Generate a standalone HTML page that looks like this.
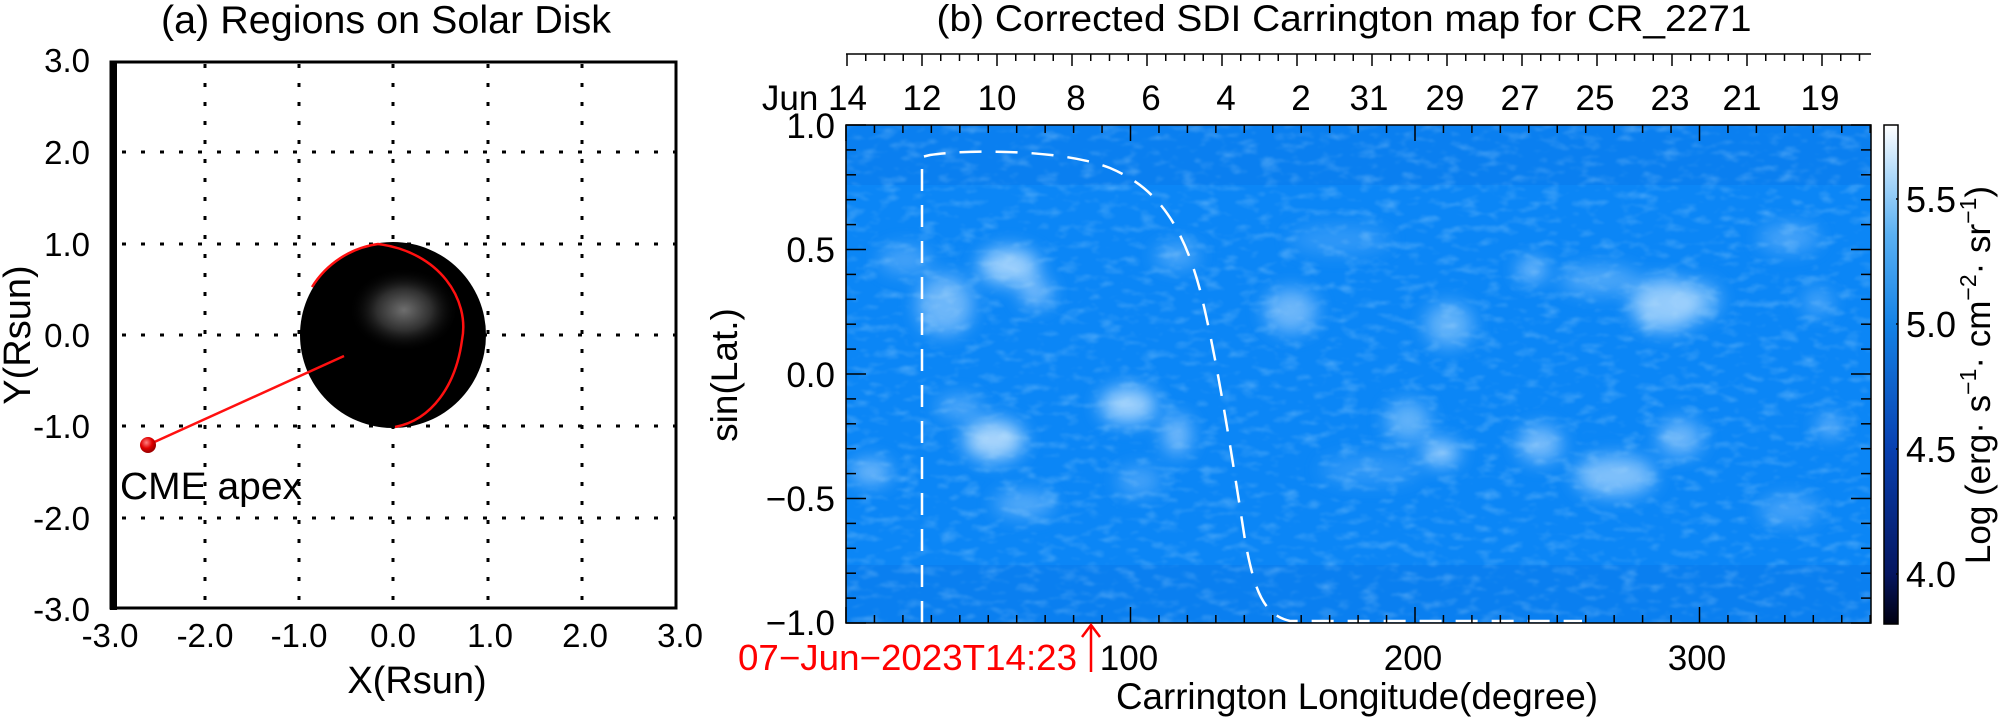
<!DOCTYPE html>
<html><head><meta charset="utf-8"><style>
html,body{margin:0;padding:0;background:#fff;}
svg{display:block;}
text{font-family:"Liberation Sans",Arial,sans-serif;fill:#000;}
</style></head><body>
<svg width="2000" height="718" viewBox="0 0 2000 718" xmlns="http://www.w3.org/2000/svg">
<defs>
<radialGradient id="sunglow" cx="0.5" cy="0.5" r="0.5">
<stop offset="0" stop-color="#8a8a8a"/><stop offset="0.5" stop-color="#3a3a3a"/><stop offset="1" stop-color="#000" stop-opacity="0"/>
</radialGradient>
<radialGradient id="dot" cx="0.4" cy="0.35" r="0.6">
<stop offset="0" stop-color="#ff8080"/><stop offset="0.6" stop-color="#e00000"/><stop offset="1" stop-color="#a00000"/>
</radialGradient>
<linearGradient id="cbar" x1="0" y1="1" x2="0" y2="0">
<stop offset="0" stop-color="#000010"/>
<stop offset="0.1" stop-color="#061660"/>
<stop offset="0.35" stop-color="#0840b0"/>
<stop offset="0.6" stop-color="#1482e6"/>
<stop offset="0.78" stop-color="#5ab0f2"/>
<stop offset="0.9" stop-color="#b0dafa"/>
<stop offset="1" stop-color="#ffffff"/>
</linearGradient>
<filter id="noise" x="0" y="0" width="100%" height="100%">
<feTurbulence type="fractalNoise" baseFrequency="0.05 0.12" numOctaves="3" seed="11"/>
<feColorMatrix type="matrix" values="0 0 0 0 0.6  0 0 0 0 0.84  0 0 0 0 1  0 0 0 2.0 -1.0"/>
<feGaussianBlur stdDeviation="1"/>
</filter>
<filter id="blur" x="-50%" y="-50%" width="200%" height="200%"><feGaussianBlur stdDeviation="9"/></filter>
<clipPath id="mapclip"><rect x="846" y="125" width="1025" height="498"/></clipPath>
</defs>

<!-- Panel (a) -->
<text x="386" y="33" font-size="39" text-anchor="middle" textLength="450" lengthAdjust="spacingAndGlyphs">(a) Regions on Solar Disk</text>
<g stroke="#000" stroke-width="3" stroke-dasharray="4 15" fill="none">
<line x1="205" y1="64" x2="205" y2="606"/><line x1="299" y1="64" x2="299" y2="606"/>
<line x1="393" y1="64" x2="393" y2="606"/><line x1="488" y1="64" x2="488" y2="606"/>
<line x1="582" y1="64" x2="582" y2="606"/>
<line x1="122" y1="152" x2="675" y2="152"/><line x1="122" y1="244" x2="675" y2="244"/>
<line x1="122" y1="335" x2="675" y2="335"/><line x1="122" y1="426" x2="675" y2="426"/>
<line x1="122" y1="518" x2="675" y2="518"/>
</g>
<circle cx="393" cy="335" r="93" fill="#000"/>
<ellipse cx="404" cy="310" rx="55" ry="42" fill="url(#sunglow)" opacity="0.8"/>
<path d="M312 287 A93 93 0 0 1 378 244 C440 252 470 300 462 340 C456 385 432 420 395 427" fill="none" stroke="#ff1010" stroke-width="2.5"/>
<line x1="344" y1="356" x2="150" y2="444" stroke="#ff1010" stroke-width="2.5"/>
<circle cx="148" cy="445" r="8" fill="url(#dot)"/>
<text x="120" y="499" font-size="38" textLength="182" lengthAdjust="spacingAndGlyphs">CME apex</text>
<rect x="111" y="62" width="565" height="546" fill="none" stroke="#000" stroke-width="3"/>
<rect x="110" y="61" width="7" height="549" fill="#000"/>
<g font-size="33" text-anchor="end">
<text x="90" y="72">3.0</text><text x="90" y="164">2.0</text><text x="90" y="256">1.0</text>
<text x="90" y="347">0.0</text><text x="90" y="438">-1.0</text><text x="90" y="530">-2.0</text><text x="90" y="621">-3.0</text>
</g>
<g font-size="33" text-anchor="middle">
<text x="110" y="647">-3.0</text><text x="205" y="647">-2.0</text><text x="299" y="647">-1.0</text>
<text x="393" y="647">0.0</text><text x="490" y="647">1.0</text><text x="585" y="647">2.0</text><text x="680" y="647">3.0</text>
<text x="417" y="693" font-size="38">X(Rsun)</text>
</g>
<text transform="translate(30,335) rotate(-90)" font-size="38" text-anchor="middle">Y(Rsun)</text>

<!-- Panel (b) -->
<text x="1344" y="31" font-size="37" text-anchor="middle" textLength="815" lengthAdjust="spacingAndGlyphs">(b) Corrected SDI Carrington map for CR_2271</text>
<line x1="846" y1="54" x2="1871" y2="54" stroke="#000" stroke-width="1.5"/>
<g stroke="#000" stroke-width="1.5" id="topticks"></g>
<g font-size="35" text-anchor="middle">
<text x="867" y="110" text-anchor="end">Jun 14</text>
<text x="922" y="110">12</text><text x="997" y="110">10</text><text x="1076" y="110">8</text>
<text x="1151" y="110">6</text><text x="1226" y="110">4</text><text x="1301" y="110">2</text>
<text x="1369" y="110">31</text><text x="1445" y="110">29</text><text x="1520" y="110">27</text>
<text x="1595" y="110">25</text><text x="1670" y="110">23</text><text x="1742" y="110">21</text>
<text x="1820" y="110">19</text>
</g>

<g clip-path="url(#mapclip)">
<rect x="846" y="125" width="1025" height="498" fill="#0b86f6"/>
<rect x="846" y="125" width="1025" height="60" fill="#0a74e4" opacity="0.35"/>
<rect x="846" y="565" width="1025" height="58" fill="#0a74e4" opacity="0.35"/>
<g filter="url(#blur)" fill="#cfe8fd">
<ellipse cx="1009" cy="266" rx="30" ry="18" opacity="0.75"/>
<ellipse cx="945" cy="305" rx="28" ry="30" opacity="0.5"/>
<ellipse cx="1036" cy="293" rx="16" ry="14" opacity="0.55"/>
<ellipse cx="994" cy="440" rx="30" ry="20" opacity="0.8"/>
<ellipse cx="1128" cy="405" rx="28" ry="18" opacity="0.75"/>
<ellipse cx="1177" cy="435" rx="14" ry="20" opacity="0.55"/>
<ellipse cx="871" cy="472" rx="20" ry="12" opacity="0.55"/>
<ellipse cx="959" cy="407" rx="22" ry="10" opacity="0.4"/>
<ellipse cx="1024" cy="504" rx="30" ry="12" opacity="0.4"/>
<ellipse cx="1139" cy="481" rx="22" ry="14" opacity="0.3"/>
<ellipse cx="1177" cy="256" rx="22" ry="12" opacity="0.35"/>
<ellipse cx="905" cy="260" rx="26" ry="14" opacity="0.3"/>
<ellipse cx="1291" cy="311" rx="26" ry="22" opacity="0.5"/>
<ellipse cx="1449" cy="325" rx="24" ry="22" opacity="0.45"/>
<ellipse cx="1532" cy="270" rx="14" ry="10" opacity="0.65"/>
<ellipse cx="1600" cy="280" rx="40" ry="14" opacity="0.35"/>
<ellipse cx="1665" cy="305" rx="34" ry="26" opacity="0.7"/>
<ellipse cx="1700" cy="300" rx="20" ry="18" opacity="0.45"/>
<ellipse cx="1408" cy="421" rx="22" ry="20" opacity="0.45"/>
<ellipse cx="1441" cy="453" rx="18" ry="12" opacity="0.75"/>
<ellipse cx="1540" cy="444" rx="22" ry="18" opacity="0.55"/>
<ellipse cx="1615" cy="476" rx="40" ry="20" opacity="0.6"/>
<ellipse cx="1680" cy="438" rx="22" ry="18" opacity="0.5"/>
<ellipse cx="1830" cy="426" rx="12" ry="10" opacity="0.55"/>
<ellipse cx="1789" cy="510" rx="30" ry="14" opacity="0.3"/>
<ellipse cx="1818" cy="302" rx="14" ry="12" opacity="0.35"/>
<ellipse cx="1789" cy="238" rx="30" ry="14" opacity="0.3"/>
<ellipse cx="1340" cy="240" rx="50" ry="14" opacity="0.2"/>
<ellipse cx="1370" cy="470" rx="50" ry="14" opacity="0.2"/>
</g>
<rect x="846" y="125" width="1025" height="498" filter="url(#noise)" opacity="0.35"/>
</g>
<!-- dashed curve -->
<path d="M922 623 L922 157 L930 155 C960 150 1060 148 1110 168 C1150 185 1180 215 1200 290 C1215 350 1228 430 1245 540 C1255 595 1265 615 1290 621 L1582 621" fill="none" stroke="#fff" stroke-width="2.5" stroke-dasharray="22 14"/>
<rect x="846" y="125" width="1025" height="498" fill="none" stroke="#000" stroke-width="1.5"/>
<g stroke="#000" stroke-width="1.5" id="mapticks"></g>
<g font-size="35" text-anchor="end">
<text x="835" y="138">1.0</text><text x="835" y="262">0.5</text><text x="835" y="387">0.0</text>
<text x="835" y="511">−0.5</text><text x="835" y="635">−1.0</text>
</g>
<text transform="translate(737,375) rotate(-90)" font-size="37" text-anchor="middle">sin(Lat.)</text>
<g font-size="35" text-anchor="middle">
<text x="1129" y="670">100</text><text x="1413" y="670">200</text><text x="1697" y="670">300</text>
</g>
<text x="1357" y="709" font-size="37" text-anchor="middle" textLength="482" lengthAdjust="spacingAndGlyphs">Carrington Longitude(degree)</text>
<text x="1077" y="670" font-size="36" text-anchor="end" style="fill:#ff0000" textLength="339" lengthAdjust="spacingAndGlyphs">07−Jun−2023T14:23</text>
<line x1="1091" y1="626" x2="1091" y2="672" stroke="#ff0000" stroke-width="2.5"/>
<path d="M1082 637 L1091 625 L1100 637" fill="none" stroke="#ff0000" stroke-width="2.5"/>

<!-- colorbar -->
<rect x="1884" y="125" width="14" height="499" fill="url(#cbar)" stroke="#000" stroke-width="1.5"/>
<g stroke="#000" stroke-width="1.5">
<line x1="1896" y1="199" x2="1898" y2="199"/><line x1="1896" y1="324" x2="1898" y2="324"/>
<line x1="1896" y1="449" x2="1898" y2="449"/><line x1="1896" y1="574" x2="1898" y2="574"/>
</g>
<g font-size="36">
<text x="1906" y="212">5.5</text><text x="1906" y="337">5.0</text>
<text x="1906" y="462">4.5</text><text x="1906" y="587">4.0</text>
</g>
<text transform="translate(1990,375) rotate(-90)" font-size="35" text-anchor="middle">Log (erg· s<tspan font-size="23" dy="-14">−1</tspan><tspan dy="14">· cm</tspan><tspan font-size="23" dy="-14">−2</tspan><tspan dy="14">· sr</tspan><tspan font-size="23" dy="-14">−1</tspan><tspan dy="14">)</tspan></text>

<script>
var ns="http://www.w3.org/2000/svg";
function L(g,x1,y1,x2,y2){var l=document.createElementNS(ns,"line");l.setAttribute("x1",x1);l.setAttribute("y1",y1);l.setAttribute("x2",x2);l.setAttribute("y2",y2);g.appendChild(l);}
var t=document.getElementById("topticks");
for(var i=0;i<=54;i++){var x=847+i*18.75;if(x>1871)break;L(t,x,54,x,(i%4==0)?66:61);}
var m=document.getElementById("mapticks");
for(var d=0;d<=360;d+=10){var x=846+d*2.845;var big=(d%100==0);L(m,x,623,x,623-(big?16:8));L(m,x,125,x,125+(big?16:8));}
for(var k=0;k<=20;k++){var y=125+k*24.9;var big=(k%5==0);L(m,846,y,846+(big?20:10),y);L(m,1871,y,1871-(big?20:10),y);}
</script>
</svg>
</body></html>
